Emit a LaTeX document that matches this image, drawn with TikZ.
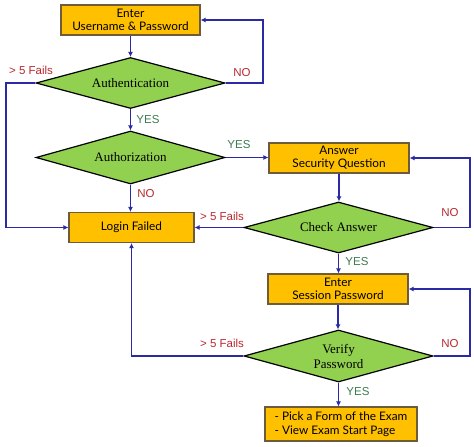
\documentclass[tikz,border=0pt]{standalone}
\usepackage{fontspec}
\setmainfont{Liberation Serif}
\newfontfamily\boxfont{Lato}
\newfontfamily\labfont{Liberation Sans}
\usetikzlibrary{shapes.geometric,arrows.meta}
\definecolor{boxfill}{HTML}{FFC000}
\definecolor{boxline}{HTML}{6E5B3A}
\definecolor{dfill}{HTML}{92D050}
\definecolor{lineblue}{HTML}{2A2AA6}
\definecolor{labred}{HTML}{B8282E}
\definecolor{labgreen}{HTML}{3A7A50}
\tikzset{
  procbox/.style={draw=boxline, line width=1.2pt, fill=boxfill, rectangle, inner sep=0pt,
    align=center, font=\boxfont\fontsize{11.8}{13.5}\selectfont},
  decision/.style={draw=black, line width=1.2pt, fill=dfill, diamond, shape aspect=3.7, inner sep=0pt,
    minimum width=189pt, align=center, font=\fontsize{13}{15}\selectfont},
  conn/.style={draw=lineblue, line width=1.6pt, -{Latex[length=5pt,width=5pt]}},
  nolab/.style={text=labred, font=\labfont\fontsize{11.5}{13}\selectfont, inner sep=0pt},
  yeslab/.style={text=labgreen, font=\labfont\fontsize{11.5}{13}\selectfont, inner sep=0pt},
}
\begin{document}
\begin{tikzpicture}[x=1pt,y=-1pt]
\useasboundingbox (0,0) rectangle (474,447);
\node[procbox, minimum width=139pt, minimum height=30pt] (b1) at (130.5,20) {Enter\\Username \& Password};
\node[decision, minimum height=51pt] (auth) at (130.5,83) {Authentication};
\node[decision, minimum height=53pt] (authz) at (130.5,157.5) {Authorization};
\node[procbox, minimum width=125pt, minimum height=30pt] (lf) at (131.5,227.5) {Login Failed};
\node[procbox, minimum width=140pt, minimum height=30pt] (asq) at (339,158) {Answer\\Security Question};
\node[decision, minimum height=51pt] (chk) at (338.5,227.5) {Check Answer};
\node[procbox, minimum width=140pt, minimum height=30pt] (esp) at (338,289) {Enter\\Session Password};
\node[decision, minimum height=52pt] (vp) at (338.5,356) {Verify\\Password};
\node[procbox, minimum width=152pt, minimum height=34pt, align=left] (pick) at (341,424) {- Pick a Form of the Exam\\- View Exam Start Page};

\coordinate (c1) at (6,83);
\coordinate (c2) at (263,83);
\coordinate (c3) at (470,227.5);
\coordinate (c4) at (470,356);

\draw[conn] (b1.south) -- (auth.north);
\draw[conn] (auth.west) -- (c1) |- (lf.west);
\draw[conn] (auth.east) -- (c2) |- (b1.east);
\draw[conn] (auth.south) -- (authz.north);
\draw[conn] (authz.east) -- (asq.west |- authz.east);
\draw[conn] (authz.south) -- (authz.south |- lf.north);
\draw[conn] (asq.south) -- (asq.south |- chk.north);
\draw[conn] (chk.west) -- (lf.east);
\draw[conn] (chk.east) -- (c3) |- (asq.east);
\draw[conn] (chk.south) -- (chk.south |- esp.north);
\draw[conn] (esp.south) -- (esp.south |- vp.north);
\draw[conn] (vp.east) -- (c4) |- (esp.east);
\draw[conn] (vp.west) -| (lf.south);
\draw[conn] (vp.south) -- (vp.south |- pick.north);

\node[nolab] (l1) at (31,70) {> 5 Fails};
\node[nolab] (l2) at (242,73) {NO};
\node[yeslab] (l3) at (148,120) {YES};
\node[yeslab] (l4) at (239,145) {YES};
\node[nolab] (l5) at (146,194) {NO};
\node[nolab] (l6) at (222,216) {> 5 Fails};
\node[nolab] (l7) at (450,213) {NO};
\node[yeslab] (l8) at (357,262) {YES};
\node[nolab] (l9) at (222,343) {> 5 Fails};
\node[nolab] (l10) at (450,344) {NO};
\node[yeslab] (l11) at (358,392) {YES};
\end{tikzpicture}
\end{document}
